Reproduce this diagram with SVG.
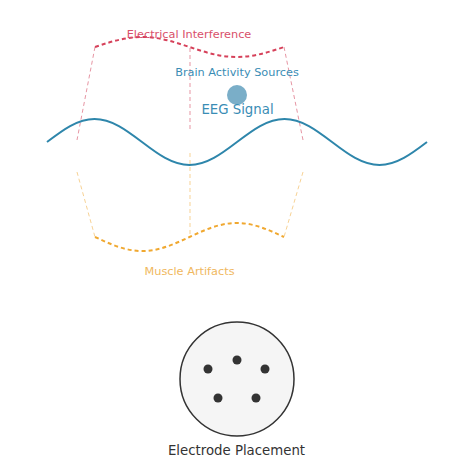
<svg xmlns="http://www.w3.org/2000/svg" width="474" height="474" viewBox="0 0 474 474">
<style>
text{font-family:"DejaVu Sans","Liberation Sans",sans-serif;text-anchor:middle}
.red{stroke:#d6415a;fill:none;stroke-width:2;stroke-dasharray:4,3}
.redl{stroke:#e07a8c;fill:none;stroke-width:1;stroke-dasharray:4,3;opacity:.8}
.org{stroke:#f0a830;fill:none;stroke-width:2;stroke-dasharray:4,3}
.orgl{stroke:#f5c77a;fill:none;stroke-width:1;stroke-dasharray:4,3;opacity:.8}
.dot{fill:#333}
.s{font-size:11.3px}
.b{font-size:13.3px}
</style>
<rect width="474" height="474" fill="#fff"/>
<g id="connectors">
<path class="redl" d="M95,47 L77,140 M190,48 L190,130 M284,47 L303,140"/>
<path class="orgl" d="M77,172 L95,237 M190,153 L190,237 M303,172 L284,237"/>
</g>
<g id="interference">
<path class="red" d="M95,47 C110.41,41.88 125.15,37 142.25,37 C159.35,37 174.09,41.88 189.5,47 C204.91,52.12 219.65,57 236.75,57 C253.85,57 268.59,52.12 284,47"/>
<text class="s" x="189" y="38" fill="#d9506a">Electrical Interference</text>
</g>
<g id="muscle">
<path class="org" d="M95,237 C110.41,244.17 125.15,251 142.25,251 C159.35,251 174.09,244.17 189.5,237 C204.91,229.83 219.65,223 236.75,223 C253.85,223 268.59,229.83 284,237"/>
<text class="s" x="189.5" y="275" fill="#f0b860">Muscle Artifacts</text>
</g>
<g id="sources">
<text class="s" x="237" y="76" fill="#3a8db5">Brain Activity Sources</text>
<circle cx="237" cy="95" r="10" fill="#7aaec8"/>
</g>
<g id="eeg">
<path d="M47,142 C62.49,130.22 77.31,119 94.5,119 C111.69,119 126.51,130.22 142,142 C157.49,153.78 172.31,165 189.5,165 C206.69,165 221.51,153.78 237,142 C252.49,130.22 267.31,119 284.5,119 C301.69,119 316.51,130.22 332,142 C347.49,153.78 362.31,165 379.5,165 C396.69,165 411.51,153.78 427,142" fill="none" stroke="#2e86ab" stroke-width="2"/>
<text class="b" x="237.5" y="114" fill="#3a8db5">EEG Signal</text>
</g>
<g id="electrodes">
<circle cx="237" cy="379" r="57" fill="#f5f5f5" stroke="#333" stroke-width="1.5"/>
<circle class="dot" cx="237" cy="360" r="4.5"/>
<circle class="dot" cx="208" cy="369" r="4.5"/>
<circle class="dot" cx="265" cy="369" r="4.5"/>
<circle class="dot" cx="218" cy="398" r="4.5"/>
<circle class="dot" cx="256" cy="398" r="4.5"/>
<text class="b" x="236.5" y="455" fill="#333">Electrode Placement</text>
</g>
</svg>
